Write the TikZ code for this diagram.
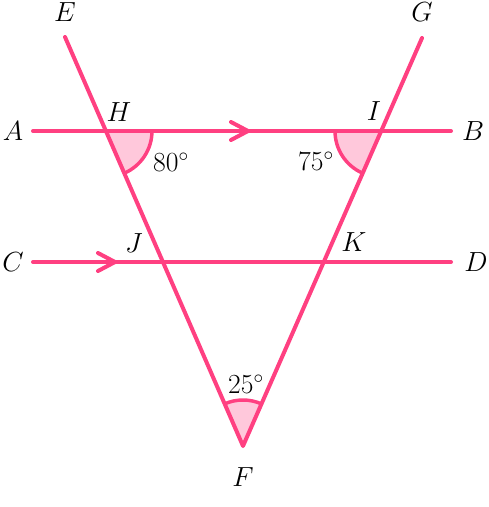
\documentclass[tikz,border=0pt]{standalone}
\usetikzlibrary{angles}
\definecolor{lnpink}{RGB}{255,64,129}
\definecolor{fillpink}{RGB}{255,200,219}
\tikzset{every picture/.style={line width=3pt}}
\tikzset{lbl/.style={inner sep=0.75pt,font=\fontsize{22}{26}\selectfont}}
\tikzset{ang/.style={draw=lnpink,fill=fillpink,line width=2.6pt,angle radius=34.5pt}}

\begin{document}
\begin{tikzpicture}[x=0.75pt,y=0.75pt,yscale=-1,xscale=1]
\useasboundingbox (0,0) rectangle (489,507);

% Points
\coordinate (E) at (65,37);
\coordinate (G) at (422,38);
\coordinate (F) at (243,446);
\coordinate (A) at (33,131);
\coordinate (B) at (451,131);
\coordinate (C) at (33,262);
\coordinate (D) at (451,262);
\coordinate (H) at (106,131);
\coordinate (I) at (381,131);
\coordinate (J) at (163,262);
\coordinate (K) at (324,262);
\coordinate (arAB) at (248,131);
\coordinate (arCD) at (115,262);

%Angles
\pic [ang] {angle = F--H--I};
\pic [ang] {angle = H--I--F};
\pic [ang] {angle = G--F--E};

%Straight Lines
\draw [lnpink,line cap=round,line join=round] (A) -- (B) ;
\draw [lnpink,line cap=round,line join=round] (C) -- (D) ;
\draw [lnpink,line cap=round,line join=round] (E) -- (F) -- (G) ;
%Parallel marks
\draw [lnpink,line cap=round,line join=round] (arAB) ++(-17,-9) -- (arAB) -- ++(-17,9) ;
\draw [lnpink,line cap=round,line join=round] (arCD) ++(-17,-9) -- (arCD) -- ++(-17,9) ;

% Text Node
\draw (65,12) node [lbl] (lE) {$E$};
\draw (422,12) node [lbl] (lG) {$G$};
\draw (13,131) node [lbl] (lA) {$A$};
\draw (473,131) node [lbl] (lB) {$B$};
\draw (13,262) node [lbl] (lC) {$C$};
\draw (476,262) node [lbl] (lD) {$D$};
\draw (119,112) node [lbl] (lH) {$H$};
\draw (374,111) node [lbl] (lI) {$I$};
\draw (134,243) node [lbl] (lJ) {$J$};
\draw (354,242) node [lbl] (lK) {$K$};
\draw (243,477) node [lbl] (lF) {$F$};
\draw (171,162) node [lbl] (a80) {$80^\circ$};
\draw (316,161) node [lbl] (a75) {$75^\circ$};
\draw (246,384) node [lbl] (a25) {$25^\circ$};

\end{tikzpicture}
\end{document}
